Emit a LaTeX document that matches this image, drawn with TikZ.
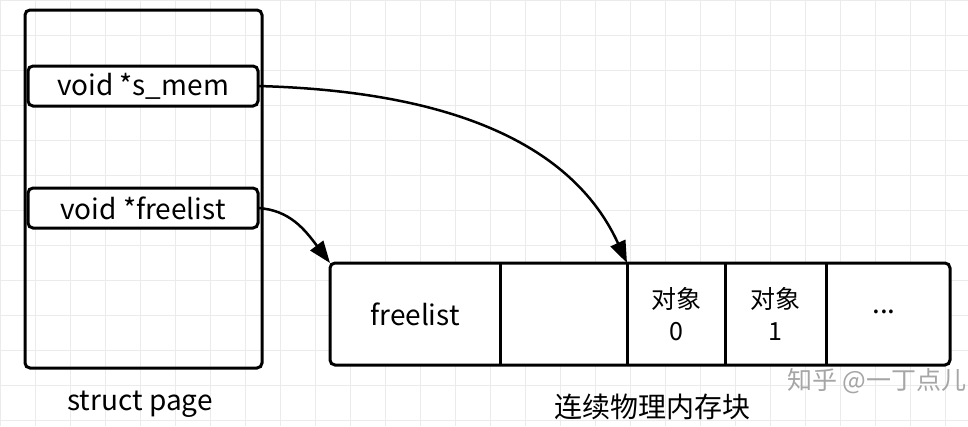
\documentclass[tikz,border=0pt]{standalone}
\usepackage{fontspec}
\setmainfont{Noto Sans CJK SC}
\usetikzlibrary{arrows.meta}
\tikzset{
  box/.style={draw, line width=3pt, rounded corners=5pt},
  cell/.style={draw, line width=3pt},
  lab/.style={font=\fontsize{28}{32}\selectfont},
  conn/.style={line width=2.5pt, -{Triangle[length=22pt,width=16pt]}},
}
\begin{document}
\begin{tikzpicture}[x=1pt,y=-1pt]
\fill[white] (0,0) rectangle (968,426);
\useasboundingbox (0,0) rectangle (968,426);
\draw[black!8, line width=0.8pt] (0,0) grid[step=35pt] (968,426);
% struct page
\draw[box] (25,10) rectangle (262,368);
\draw[box, fill=white] (28,66) rectangle (258,106);
\node[lab] (smem) at (143,86) {void *s\_mem};
\coordinate (smemR) at (258,86);
\draw[box, fill=white] (28,188) rectangle (258,228);
\node[lab] (fl) at (143,208) {void *freelist};
\coordinate (flR) at (258,208);
\node[lab] (sp) at (140,404) {struct page};
% memory
\fill[white] (330,263) rectangle (950,365);
\draw[cell] (500,263) -- (500,365) (627,263) -- (627,365) (725,263) -- (725,365) (826,263) -- (826,365);
\draw[box] (330,263) rectangle (950,365);
\node[lab] (c1) at (415,314) {freelist};
\node[lab, align=center, font=\fontsize{25}{32}\selectfont] (c3) at (676,314) {对象\\0};
\node[lab, align=center, font=\fontsize{25}{32}\selectfont] (c4) at (775,314) {对象\\1};
\node[lab] (c5) at (884,312) {...};
\coordinate (c1T) at (330,263);
\coordinate (c3T) at (627,263);
\node[lab] (mem) at (652,407) {连续物理内存块};
\node[font=\fontsize{25}{28}\selectfont, text=black!35] (wm) at (877,381) {知乎 @一丁点儿};
% arrows
\draw[conn] (smemR) .. controls (480,92) and (580,160) .. (c3T);
\draw[conn] (flR) .. controls (290,210) and (305,230) .. (c1T);
\end{tikzpicture}
\end{document}
